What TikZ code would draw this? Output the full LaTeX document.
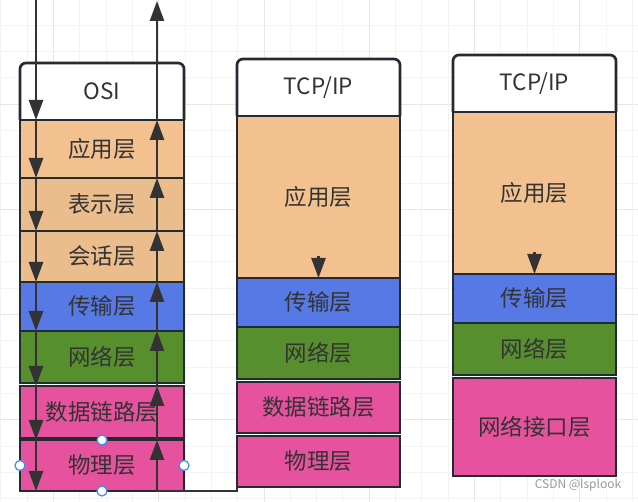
\documentclass[tikz,border=0pt]{standalone}
\usepackage{fontspec}
\setmainfont{Noto Sans CJK SC}
\usepackage{xcolor}
\usetikzlibrary{arrows.meta,positioning}
\definecolor{edge}{HTML}{232A31}
\definecolor{ink}{HTML}{333333}
\definecolor{peach}{HTML}{F3C18F}
\definecolor{tan}{HTML}{EBBC8C}
\definecolor{blueL}{HTML}{5779E6}
\definecolor{greenL}{HTML}{578F2F}
\definecolor{pinkL}{HTML}{E7529F}
\definecolor{gridmin}{HTML}{F3F3F3}
\definecolor{gridmaj}{HTML}{E6E6E6}
\definecolor{selblue}{HTML}{3C8DF5}

\begin{document}
\begin{tikzpicture}[x=1pt, y=-1pt]
                \tikzstyle{layer} = [draw=edge, line width=2.7pt, rectangle, inner sep=0pt, outer sep=0pt, text=ink, font=\fontsize{22.5}{26}\selectfont]
                \tikzstyle{head} = [layer, draw=none, fill=white]
                \tikzstyle{flow} = [draw=ink, line width=2.6pt, -{Triangle[length=20pt,width=14pt]}]
                \tikzstyle{handle} = [draw=selblue, fill=white, circle, line width=1.2pt, minimum size=10pt, inner sep=0pt]

                \useasboundingbox (0,0) rectangle (638,502);
                \fill [white] (0,0) rectangle (638,502);
                \foreach \k in {0,...,24} {
                    \pgfmathsetmacro\gx{0.7+\k*26.33}
                    \pgfmathsetmacro\gy{-1.3+\k*26.33}
                    \pgfmathtruncatemacro\mx{mod(\k,4)==2}
                    \pgfmathtruncatemacro\my{mod(\k,4)==0}
                    \ifnum\mx=1 \draw [gridmaj, line width=1pt] (\gx,0) -- (\gx,502); \else \draw [gridmin, line width=1pt] (\gx,0) -- (\gx,502); \fi
                    \ifnum\my=1 \draw [gridmaj, line width=1pt] (0,\gy) -- (638,\gy); \else \draw [gridmin, line width=1pt] (0,\gy) -- (638,\gy); \fi
                }

                \node [head, minimum width=164pt, minimum height=57pt, anchor=north west] (osi) at (20,63) {OSI};
                \node [head, minimum width=163pt, minimum height=57pt, anchor=north west] (tcpa) at (237,59) {TCP/IP};
                \node [head, minimum width=163pt, minimum height=57pt, anchor=north west] (tcpb) at (453,55) {TCP/IP};
                \foreach \h in {osi, tcpa, tcpb}
                    \draw [draw=edge, line width=2.7pt, rounded corners=6pt] (\h.south west) -- (\h.north west) -- (\h.north east) -- (\h.south east);

                \begin{scope}[nodes={minimum width=164pt}]
                \node [layer, fill=peach, minimum height=58pt, below = 0pt of osi] (app1) {应用层};
                \node [layer, fill=tan, minimum height=53pt, below = 0pt of app1] (pre1) {表示层};
                \node [layer, fill=tan, minimum height=51pt, below = 0pt of pre1] (ses1) {会话层};
                \node [layer, fill=blueL, minimum height=49pt, below = 0pt of ses1] (tra1) {传输层};
                \node [layer, fill=greenL, minimum height=52pt, below = 0pt of tra1] (net1) {网络层};
                \node [layer, fill=pinkL, minimum height=52pt, below = 3pt of net1] (dl1) {数据链路层};
                \node [layer, fill=pinkL, minimum height=51pt, below = 2pt of dl1] (phy1) {物理层};
                \end{scope}

                \begin{scope}[nodes={minimum width=163pt}]
                \node [layer, fill=peach, minimum height=162pt, below = 0pt of tcpa] (app2) {应用层};
                \node [layer, fill=blueL, minimum height=49pt, below = 0pt of app2] (tra2) {传输层};
                \node [layer, fill=greenL, minimum height=52pt, below = 0pt of tra2] (net2) {网络层};
                \node [layer, fill=pinkL, minimum height=51pt, below = 3pt of net2] (dl2) {数据链路层};
                \node [layer, fill=pinkL, minimum height=51pt, below = 3pt of dl2] (phy2) {物理层};

                \node [layer, fill=peach, minimum height=162pt, below = 0pt of tcpb] (app3) {应用层};
                \node [layer, fill=blueL, minimum height=49pt, below = 0pt of app3] (tra3) {传输层};
                \node [layer, fill=greenL, minimum height=52pt, below = 0pt of tra3] (net3) {网络层};
                \node [layer, fill=pinkL, minimum height=98pt, below = 3pt of net3] (nif3) {网络接口层};
                \end{scope}

                \coordinate (down) at (36,0);
                \coordinate (up) at (157,0);
                \draw [flow] (down) -- (down |- osi.south);
                \draw [flow] (down |- app1.north) -- (down |- pre1.north);
                \draw [flow] (down |- pre1.north) -- (down |- ses1.north);
                \draw [flow] (down |- ses1.north) -- (down |- tra1.north);
                \draw [flow] (down |- tra1.north) -- (down |- net1.north);
                \draw [flow] (down |- net1.north) -- (down |- dl1.north);
                \draw [flow] (down |- dl1.north) -- (down |- phy1.north);
                \draw [flow] (down |- phy1.north) -- (down |- phy1.south);

                \draw [flow] (phy2.south west) |- (up |- phy1.south) -- (up |- phy1.north);
                \draw [flow] (up |- phy1.north) -- (up |- dl1.north);
                \draw [flow] (up |- dl1.north) -- (up |- net1.north);
                \draw [flow] (up |- net1.north) -- (up |- tra1.north);
                \draw [flow] (up |- tra1.north) -- (up |- ses1.north);
                \draw [flow] (up |- ses1.north) -- (up |- pre1.north);
                \draw [flow] (up |- pre1.north) -- (up |- app1.north);
                \draw [flow] (up |- app1.north) -- ([yshift=-1pt]up);

                \draw [flow] ([yshift=22pt]tra2.north) -- (tra2.north);
                \draw [flow] ([yshift=22pt]tra3.north) -- (tra3.north);

                \node [handle] (hn) at (phy1.north) {};
                \node [handle] (hw) at (phy1.west) {};
                \node [handle] (he) at (phy1.east) {};
                \node [handle] (hs) at (phy1.south) {};

                \node [text=black!40, font=\fontsize{12}{14}\selectfont] (mark) at (578,485) {CSDN @lsplook};
\end{tikzpicture}
\end{document}
